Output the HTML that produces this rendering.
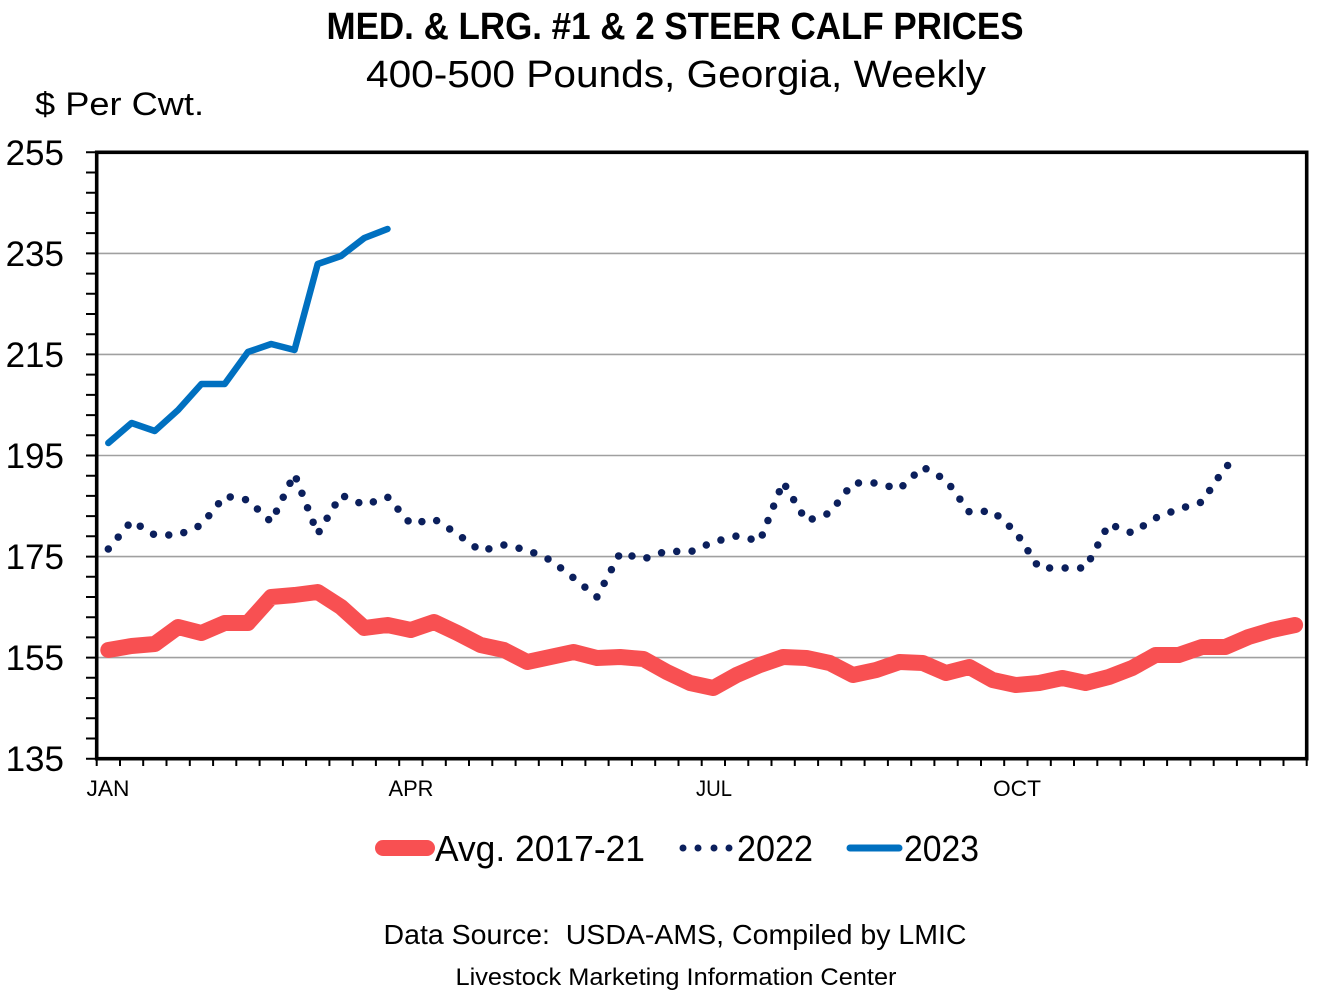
<!DOCTYPE html>
<html><head><meta charset="utf-8"><style>
html,body{margin:0;padding:0;background:#fff;}
svg{display:block;}
text{font-family:"Liberation Sans",sans-serif;fill:#000;}
</style></head><body>
<svg width="1334" height="990" viewBox="0 0 1334 990" xmlns="http://www.w3.org/2000/svg">
<rect width="1334" height="990" fill="#fff"/>
<!-- titles -->
<text x="675" y="39" font-size="38" font-weight="bold" text-anchor="middle" textLength="697" lengthAdjust="spacingAndGlyphs">MED. &amp; LRG. #1 &amp; 2 STEER CALF PRICES</text>
<text x="676" y="87" font-size="38" text-anchor="middle" textLength="620" lengthAdjust="spacingAndGlyphs">400-500 Pounds, Georgia, Weekly</text>
<text x="35" y="115" font-size="32" textLength="169" lengthAdjust="spacingAndGlyphs">$ Per Cwt.</text>

<!-- gridlines -->
<g stroke="#a0a0a0" stroke-width="1.6">
<line x1="97" y1="253.4" x2="1307" y2="253.4"/>
<line x1="97" y1="354.4" x2="1307" y2="354.4"/>
<line x1="97" y1="455.5" x2="1307" y2="455.5"/>
<line x1="97" y1="556.6" x2="1307" y2="556.6"/>
<line x1="97" y1="657.6" x2="1307" y2="657.6"/>
</g>

<!-- y labels -->
<g font-size="35" text-anchor="end">
<text x="64" y="165">255</text>
<text x="64" y="266">235</text>
<text x="64" y="367">215</text>
<text x="64" y="468">195</text>
<text x="64" y="569">175</text>
<text x="64" y="670">155</text>
<text x="64" y="771">135</text>
</g>

<!-- left ticks -->
<path stroke="#000" stroke-width="2" fill="none" d="M86 152.3H97M86 172.5H97M86 192.7H97M86 212.9H97M86 233.1H97M86 253.4H97M86 273.6H97M86 293.8H97M86 314H97M86 334.2H97M86 354.4H97M86 374.6H97M86 394.9H97M86 415.1H97M86 435.3H97M86 455.5H97M86 475.7H97M86 495.9H97M86 516.1H97M86 536.3H97M86 556.6H97M86 576.8H97M86 597H97M86 617.2H97M86 637.4H97M86 657.6H97M86 677.8H97M86 698.1H97M86 718.3H97M86 738.5H97M86 758.7H97"/>

<!-- bottom ticks -->
<path stroke="#000" stroke-width="2" fill="none" d="M96.7 758V766M120 758V766M143.2 758V766M166.5 758V766M189.8 758V766M213.1 758V766M236.3 758V766M259.6 758V766M282.9 758V766M306.1 758V766M329.4 758V766M352.7 758V766M375.9 758V766M399.2 758V766M422.5 758V766M445.8 758V766M469 758V766M492.3 758V766M515.6 758V766M538.8 758V766M562.1 758V766M585.4 758V766M608.6 758V766M631.9 758V766M655.2 758V766M678.5 758V766M701.7 758V766M725 758V766M748.3 758V766M771.5 758V766M794.8 758V766M818.1 758V766M841.3 758V766M864.6 758V766M887.9 758V766M911.2 758V766M934.4 758V766M957.7 758V766M981 758V766M1004.2 758V766M1027.5 758V766M1050.8 758V766M1074 758V766M1097.3 758V766M1120.6 758V766M1143.9 758V766M1167.1 758V766M1190.4 758V766M1213.7 758V766M1236.9 758V766M1260.2 758V766M1283.5 758V766M1306.7 758V766"/>

<!-- x labels -->
<g font-size="22" text-anchor="middle">
<text x="108" y="796" textLength="43" lengthAdjust="spacingAndGlyphs">JAN</text>
<text x="411" y="796" textLength="45" lengthAdjust="spacingAndGlyphs">APR</text>
<text x="714" y="796" textLength="36" lengthAdjust="spacingAndGlyphs">JUL</text>
<text x="1017" y="796" textLength="48" lengthAdjust="spacingAndGlyphs">OCT</text>
</g>

<!-- Avg 2017-21 -->
<polyline fill="none" stroke="#F85052" stroke-width="16" stroke-linejoin="round" stroke-linecap="round"
points="108.3,650 131.6,646 154.8,644 178.1,627 201.4,633 224.7,623 247.9,623 271.2,597 294.5,595 317.7,592 341,607 364.3,628 387.5,625 410.8,630 434.1,622 457.4,633 480.6,645 503.9,650 527.2,662 550.4,657 573.7,652 597,658 620.2,657 643.5,659 666.8,672 690.1,683 713.3,688 736.6,675 759.9,665 783.1,657 806.4,658 829.7,663 852.9,675 876.2,670 899.5,662 922.8,663 946,673 969.3,667 992.6,680 1015.8,685 1039.1,683 1062.4,678 1085.6,683 1108.9,677 1132.2,668 1155.5,655 1178.7,655 1202,647 1225.3,647 1248.5,637 1271.8,630 1295.1,625"/>

<!-- 2022 dotted -->
<polyline fill="none" stroke="#0B1F5C" stroke-width="7.5" stroke-linejoin="round" stroke-linecap="round" stroke-dasharray="0 15.5"
points="108.3,549 131.6,521 154.8,535 178.1,535 201.4,525 224.7,496 247.9,500 271.2,522 294.5,474 317.7,534 341,495 364.3,505 387.5,497 410.8,524 434.1,519 457.4,534 480.6,551 503.9,545 527.2,550 550.4,560 573.7,578 597,597 620.2,553 643.5,559 666.8,551 690.1,552 713.3,542 736.6,536 759.9,541 783.1,482 806.4,521 829.7,513 852.9,483 876.2,483 899.5,489 922.8,467 946,480 969.3,512 992.6,511 1015.8,532 1039.1,568 1062.4,568 1085.6,568 1108.9,524 1132.2,533 1155.5,518 1178.7,509 1202,502 1225.3,467 1239,458"/>

<!-- 2023 -->
<polyline fill="none" stroke="#0070C0" stroke-width="6.5" stroke-linejoin="round" stroke-linecap="round"
points="108.3,443 131.6,423 154.8,431 178.1,410 201.4,384 224.7,384 247.9,352 271.2,344 294.5,350 317.7,264 341,256 364.3,238 387.5,229"/>

<!-- frame -->
<rect x="96.7" y="152.3" width="1210" height="606.4" fill="none" stroke="#000" stroke-width="3.6"/>

<!-- legend -->
<line x1="383" y1="848" x2="427" y2="848" stroke="#F85052" stroke-width="16" stroke-linecap="round"/>
<text x="435" y="861" font-size="36" textLength="210" lengthAdjust="spacingAndGlyphs">Avg. 2017-21</text>
<g fill="#0B1F5C">
<circle cx="683" cy="848" r="3.5"/><circle cx="698" cy="848" r="3.5"/><circle cx="714" cy="848" r="3.5"/><circle cx="729" cy="848" r="3.5"/>
</g>
<text x="737" y="861" font-size="36" textLength="76" lengthAdjust="spacingAndGlyphs">2022</text>
<line x1="850" y1="848" x2="899" y2="848" stroke="#0070C0" stroke-width="7" stroke-linecap="round"/>
<text x="904" y="861" font-size="36" textLength="75" lengthAdjust="spacingAndGlyphs">2023</text>

<!-- footer -->
<text x="675" y="944" font-size="28" text-anchor="middle" textLength="583" lengthAdjust="spacingAndGlyphs">Data Source:&#160; USDA-AMS, Compiled by LMIC</text>
<text x="676" y="985" font-size="24" text-anchor="middle" textLength="441" lengthAdjust="spacingAndGlyphs">Livestock Marketing Information Center</text>
</svg>
</body></html>
